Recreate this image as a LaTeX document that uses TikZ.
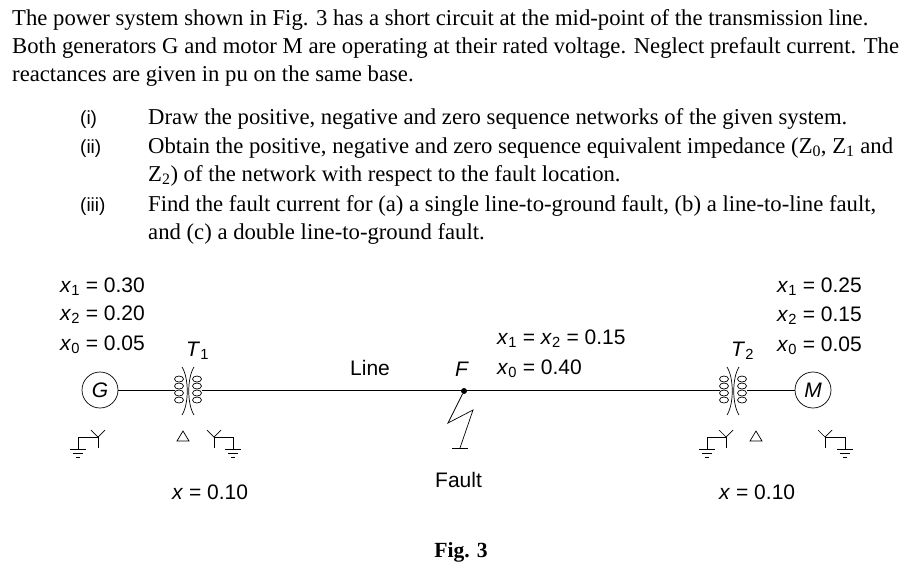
\documentclass[tikz,border=0pt]{standalone}
\usepackage{fontspec}
\setmainfont{Liberation Serif}
\setsansfont{Liberation Sans}
\begin{document}
\begin{tikzpicture}[x=1pt,y=-1pt,
  para/.style={anchor=base west,inner sep=0pt,font=\fontsize{22.7}{25}\selectfont},
  num/.style={anchor=base west,inner sep=0pt,font=\sffamily\fontsize{19}{22}\selectfont},
  lab/.style={anchor=base west,inner sep=0pt,font=\sffamily\fontsize{21}{24}\selectfont},
  wire/.style={line width=0.8pt},
  thin/.style={line width=0.7pt}]
\useasboundingbox (0,0) rectangle (910,587);
% text
\node[para] (p1) at (12,25) {The power system shown in Fig. 3 has a short circuit at the mid-point of the transmission line.};
\node[para] (p2) at (12,53) {Both generators G and motor M are operating at their rated voltage. Neglect prefault current. The};
\node[para] (p3) at (12,81) {reactances are given in pu on the same base.};
\node[num] (i1) at (80,124) {(i)};
\node[para] (t1) at (148,124) {Draw the positive, negative and zero sequence networks of the given system.};
\node[num] (i2) at (80,153) {(ii)};
\node[para] (t2) at (148,153) {Obtain the positive, negative and zero sequence equivalent impedance (Z\textsubscript{0}, Z\textsubscript{1} and};
\node[para] (t2b) at (148,181) {Z\textsubscript{2}) of the network with respect to the fault location.};
\node[num] (i3) at (80,211) {(iii)};
\node[para] (t3) at (148,211) {Find the fault current for (a) a single line-to-ground fault, (b) a line-to-line fault,};
\node[para] (t3b) at (148,239) {and (c) a double line-to-ground fault.};
% labels
\newcommand{\xs}[1]{\textit{x}\textsubscript{#1}}
\node[lab] (a1) at (60,292) {\xs{1} = 0.30};
\node[lab] (a2) at (60,320) {\xs{2} = 0.20};
\node[lab] (a3) at (60,350) {\xs{0} = 0.05};
\node[lab] (T1) at (186,356) {\textit{T}\textsubscript{1}};
\node[lab] (ln) at (350,375) {Line};
\node[lab] (F) at (455,376) {\textit{F}};
\node[lab] (b1) at (497,344) {\xs{1} = \xs{2} = 0.15};
\node[lab] (b2) at (497,374) {\xs{0} = 0.40};
\node[lab,anchor=base east] (c1) at (862,292) {\xs{1} = 0.25};
\node[lab,anchor=base east] (c2) at (862,321) {\xs{2} = 0.15};
\node[lab,anchor=base east] (c3) at (862,351) {\xs{0} = 0.05};
\node[lab] (T2) at (731,356) {\textit{T}\textsubscript{2}};
\node[lab] (flt) at (435,487) {Fault};
\node[lab] (xa) at (172,499) {\textit{x} = 0.10};
\node[lab] (xb) at (719,499) {\textit{x} = 0.10};
\node[anchor=base,inner sep=0pt,font=\bfseries\fontsize{21.6}{24}\selectfont] (fig) at (461,557) {Fig. 3};
% machines
\node[draw,circle,minimum size=36pt,inner sep=0pt,thin,lab,anchor=center] (G) at (100,390) {\textit{G}};
\node[draw,circle,minimum size=36pt,inner sep=0pt,thin,lab,anchor=center] (M) at (813,390) {\textit{M}};
% coils
\foreach \cx/\s in {179/1,197/-1,724/1,742/-1}{
  \foreach \yy in {379,386,393,400} \draw[thin] (\cx,\yy) ellipse (4.5 and 3);
  \draw[thin] (\cx+\s*3,367) .. controls (\cx+\s*10,378) and (\cx+\s*10,404) .. (\cx+\s*3,415);
}
\coordinate (t1a) at (174.5,390); \coordinate (t1b) at (201.5,390);
\coordinate (t2a) at (719.5,390); \coordinate (t2b) at (746.5,390);
\draw[wire] (G) -- (t1a);
\draw[wire] (t1b) -- (t2a);
\draw[wire] (t2b) -- (M);
% fault
\node[circle,fill,inner sep=0pt,minimum size=6pt] (Fp) at (464,391) {};
\coordinate (fg) at (460,448);
\draw[thin] (Fp) -- (448,423) -- (473,410) -- (fg);
\draw[thin] (452,448) -- (468,448);
% grounding symbols
\newcommand{\wyeg}[3]{%
  \draw[thin] (#1-7,430) -- (#1,437) -- (#1+7,430);
  \draw[thin] (#1,437) -- (#1,448);
  \draw[thin] (#1,437) -- (#3,437) -- (#3,449);
  \draw[thin] (#3-8,449) -- (#3+8,449) (#3-5,453) -- (#3+5,453) (#3-2,457) -- (#3+2,457);}
\newcommand{\dlt}[1]{\draw[thin] (#1-6,441) -- (#1+6,441) -- (#1,431) -- cycle;}
\wyeg{98}{437}{78}
\dlt{183}
\wyeg{214}{437}{233}
\wyeg{726}{437}{707}
\dlt{756}
\wyeg{825}{437}{845}
\end{tikzpicture}
\end{document}
